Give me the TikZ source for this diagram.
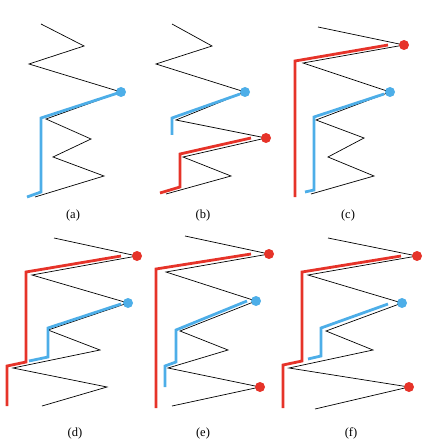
\documentclass[tikz,border=0pt]{standalone}
\usepackage{fontspec}
\setmainfont{Liberation Serif}
\begin{document}
\begin{tikzpicture}[x=1pt,y=-1pt,
  zig/.style={draw=black,line width=0.7pt},
  bluep/.style={draw=bluec,line width=2.8pt},
  redp/.style={draw=redc,line width=2.8pt},
  bdot/.style={circle,fill=bluec,inner sep=0pt,minimum size=10pt},
  rdot/.style={circle,fill=redc,inner sep=0pt,minimum size=10pt},
  lab/.style={font=\fontsize{12.5}{14}\selectfont,inner sep=0pt}]
\definecolor{bluec}{HTML}{4DAEE8}
\definecolor{redc}{HTML}{E63329}
\useasboundingbox (0,0) rectangle (428,446);
% ---------- (a)
\coordinate (a1) at (41,24); \coordinate (a2) at (84,46); \coordinate (a3) at (29,64);
\coordinate (a4) at (121,92); \coordinate (a5) at (46,119); \coordinate (a6) at (91,139);
\coordinate (a7) at (53,157); \coordinate (a8) at (104,176); \coordinate (a9) at (35,197);
\path[zig] (a1)--(a2)--(a3)--(a4)--(a5)--(a6)--(a7)--(a8)--(a9);
\coordinate (ab1) at (41,118); \coordinate (ab2) at (41,192); \coordinate (ab3) at (27,197);
\path[bluep] (a4)--(ab1)--(ab2)--(ab3);
\node[bdot] (ad) at (a4) {};
\node[lab] (la) at (73,215) {(a)};
% ---------- (b)
\coordinate (b1) at (172,24); \coordinate (b2) at (212,46); \coordinate (b3) at (156,64);
\coordinate (b4) at (245,92); \coordinate (b5) at (176,120); \coordinate (b6) at (266,138);
\coordinate (b7) at (183,157); \coordinate (b8) at (231,176); \coordinate (b9) at (166,194);
\path[zig] (b1)--(b2)--(b3)--(b4)--(b5)--(b6)--(b7)--(b8)--(b9);
\coordinate (bb0) at (240,94); \coordinate (bb1) at (172,118); \coordinate (bb2) at (172,135);
\path[bluep] (bb0)--(bb1)--(bb2);
\coordinate (br0) at (251,138); \coordinate (br1) at (180,154); \coordinate (br2) at (180,187); \coordinate (br3) at (160,193);
\path[redp] (br0)--(br1)--(br2)--(br3);
\node[bdot] (bd) at (b4) {};
\node[rdot] (bdr) at (b6) {};
\node[lab] (lb) at (203,215) {(b)};
% ---------- (c)
\coordinate (c1) at (318,27); \coordinate (c2) at (404,45); \coordinate (c3) at (303,63);
\coordinate (c4) at (390,92); \coordinate (c5) at (316,120); \coordinate (c6) at (364,138);
\coordinate (c7) at (328,157); \coordinate (c8) at (374,176); \coordinate (c9) at (311,194);
\path[zig] (c1)--(c2)--(c3)--(c4)--(c5)--(c6)--(c7)--(c8)--(c9);
\coordinate (cr0) at (388,45); \coordinate (cr1) at (295,61); \coordinate (cr2) at (295,197);
\path[redp] (cr0)--(cr1)--(cr2);
\coordinate (cb0) at (384,94); \coordinate (cb1) at (314,117); \coordinate (cb2) at (314,190); \coordinate (cb3) at (305,192);
\path[bluep] (cb0)--(cb1)--(cb2)--(cb3);
\node[rdot] (cdr) at (c2) {};
\node[bdot] (cd) at (c4) {};
\node[lab] (lc) at (348,215) {(c)};
% ---------- (d)
\coordinate (d1) at (54,238); \coordinate (d2) at (137,256); \coordinate (d3) at (32,275);
\coordinate (d4) at (128,303); \coordinate (d5) at (48,330); \coordinate (d6) at (100,350);
\coordinate (d7) at (13,368); \coordinate (d8) at (107,387); \coordinate (d9) at (42,406);
\path[zig] (d1)--(d2)--(d3)--(d4)--(d5)--(d6)--(d7)--(d8)--(d9);
\coordinate (dr0) at (121,256); \coordinate (dr1) at (26,272); \coordinate (dr2) at (26,362);
\coordinate (dr3) at (7,366); \coordinate (dr4) at (7,406);
\path[redp] (dr0)--(dr1)--(dr2)--(dr3)--(dr4);
\coordinate (db0) at (121,304); \coordinate (db1) at (48,328); \coordinate (db2) at (48,357); \coordinate (db3) at (29,361);
\path[bluep] (db0)--(db1)--(db2)--(db3);
\node[rdot] (ddr) at (d2) {};
\node[bdot] (dd) at (d4) {};
\node[lab] (ld) at (75,433) {(d)};
% ---------- (e)
\coordinate (e1) at (185,236); \coordinate (e2) at (269,254); \coordinate (e3) at (166,272);
\coordinate (e4) at (256,301); \coordinate (e5) at (180,331); \coordinate (e6) at (228,350);
\coordinate (e7) at (168,368); \coordinate (e8) at (260,387); \coordinate (e9) at (172,406);
\path[zig] (e1)--(e2)--(e3)--(e4)--(e5)--(e6)--(e7)--(e8)--(e9);
\coordinate (er0) at (251,254); \coordinate (er1) at (156,269); \coordinate (er2) at (156,408);
\path[redp] (er0)--(er1)--(er2);
\coordinate (eb0) at (247,301); \coordinate (eb1) at (176,330); \coordinate (eb2) at (176,362);
\coordinate (eb3) at (165,366); \coordinate (eb4) at (165,387);
\path[bluep] (eb0)--(eb1)--(eb2)--(eb3)--(eb4);
\node[rdot] (edr) at (e2) {};
\node[bdot] (ed) at (e4) {};
\node[rdot] (edr2) at (e8) {};
\node[lab] (le) at (203,433) {(e)};
% ---------- (f)
\coordinate (f1) at (328,238); \coordinate (f2) at (417,256); \coordinate (f3) at (308,275);
\coordinate (f4) at (402,303); \coordinate (f5) at (326,331); \coordinate (f6) at (373,350);
\coordinate (f7) at (289,368); \coordinate (f8) at (409,387); \coordinate (f9) at (315,409);
\path[zig] (f1)--(f2)--(f3)--(f4)--(f5)--(f6)--(f7)--(f8)--(f9);
\coordinate (fr0) at (401,256); \coordinate (fr1) at (302,272); \coordinate (fr2) at (302,361);
\coordinate (fr3) at (283,365); \coordinate (fr4) at (283,408);
\path[redp] (fr0)--(fr1)--(fr2)--(fr3)--(fr4);
\coordinate (fb0) at (388,304); \coordinate (fb1) at (321,328); \coordinate (fb2) at (321,356); \coordinate (fb3) at (308,359);
\path[bluep] (fb0)--(fb1)--(fb2)--(fb3);
\node[rdot] (fdr) at (f2) {};
\node[bdot] (fd) at (f4) {};
\node[rdot] (fdr2) at (f8) {};
\node[lab] (lf) at (351,433) {(f)};
\end{tikzpicture}
\end{document}
